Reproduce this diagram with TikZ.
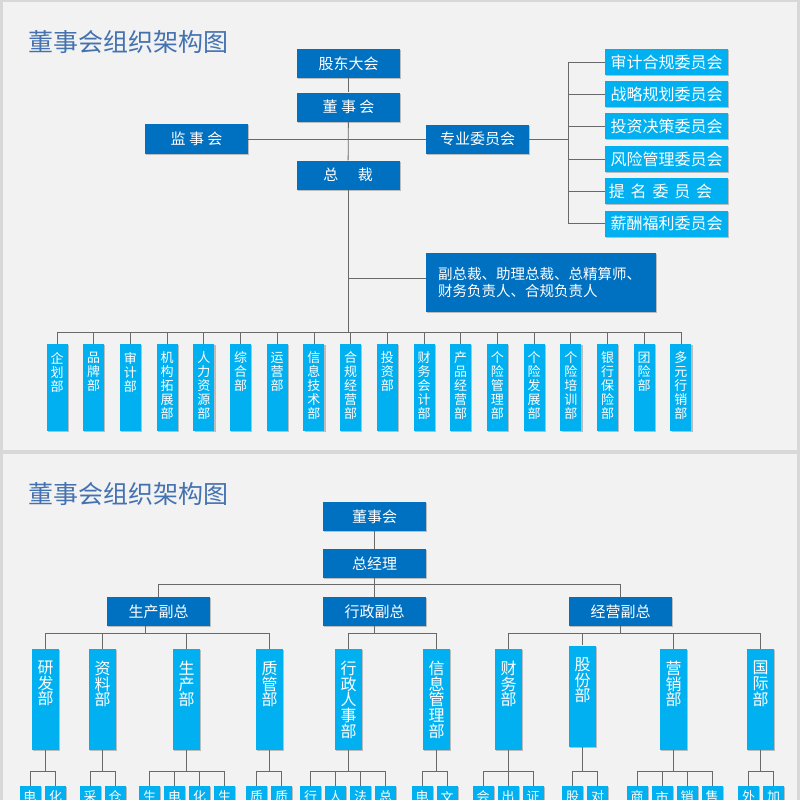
\documentclass[tikz,border=0pt]{standalone}
\usepackage{fontspec}
\setmainfont{Noto Sans CJK SC}
\usetikzlibrary{shadows}
\definecolor{dblue}{RGB}{0,112,192}
\definecolor{lblue}{RGB}{0,176,240}
\definecolor{ttlc}{RGB}{68,114,176}
\definecolor{bgframe}{RGB}{216,216,216}
\definecolor{panelc}{RGB}{242,242,242}
\definecolor{lineg}{RGB}{105,105,105}
\newcommand\deptA[1]{\parbox[c][87pt][t]{21pt}{\centering\fontsize{13pt}{14pt}\selectfont\lineskiplimit=-10pt\vspace*{8pt}#1\par}}
\newcommand\deptB[1]{\parbox[c][101pt][t]{27pt}{\centering\fontsize{16pt}{15.7pt}\selectfont\lineskiplimit=-10pt\vspace*{12pt}#1\par}}
\newcommand\subtxt[1]{\parbox[c][30pt][t]{21pt}{\centering\fontsize{13pt}{14pt}\selectfont\lineskiplimit=-10pt\vspace*{5pt}#1\par}}
\tikzset{
  shd/.style={drop shadow={shadow xshift=1.2pt,shadow yshift=-1.2pt,opacity=.22,fill=black}},
  dbox/.style={shd,fill=dblue,text=white,minimum width=103pt,minimum height=29pt,inner sep=0pt,font=\fontsize{15pt}{18pt}\selectfont},
  cbox/.style={shd,fill=lblue,text=white,minimum width=123pt,minimum height=26pt,inner sep=0pt,font=\fontsize{16pt}{19pt}\selectfont},
  dept/.style={shd,fill=lblue,text=white,inner sep=0pt},
  conn/.style={draw=lineg,line width=0.8pt},
  ttl/.style={text=ttlc,anchor=west,inner sep=0pt,font=\fontsize{25pt}{30pt}\selectfont}
}
\begin{document}
\begin{tikzpicture}[x=1pt,y=-1pt]
\useasboundingbox (0,0) rectangle (800,800);
\clip (0,0) rectangle (800,800);
\fill[bgframe] (0,0) rectangle (800,800);
\fill[panelc] (2.5,2.5) rectangle (797,450);
\fill[panelc] (2.5,453.5) rectangle (797,800);

% ---------- panel 1 ----------
\node[ttl] (t1) at (28,42) {董事会组织架构图};
\coordinate (zb) at (568,139);
\coordinate (db) at (348,332);

\node[dbox] (gd) at (348.5,63.5) {股东大会};
\node[dbox] (bd) at (348.5,107) {董 事 会};
\node[dbox,minimum height=30pt] (js) at (196.5,139) {监 事 会};
\node[dbox] (zc) at (348,175) {总\hspace{1.3em}裁};
\node[dbox] (zy) at (477.5,139) {专业委员会};
\node[cbox] (c1) at (666.5,62) {审计合规委员会};
\node[cbox] (c2) at (666.5,94) {战略规划委员会};
\node[cbox] (c3) at (666.5,126) {投资决策委员会};
\node[cbox] (c4) at (666.5,159) {风险管理委员会};
\node[cbox] (c5) at (666.5,191) {提\hspace*{0.36em}名\hspace*{0.36em}委\hspace*{0.36em}员\hspace*{0.36em}会\hspace*{12pt}};
\node[cbox] (c6) at (666.5,223.5) {薪酬福利委员会};
\node[dbox,minimum width=230pt,minimum height=59pt,text width=206pt,align=left,font=\fontsize{14.5pt}{16.5pt}\selectfont] (fz) at (541,282.5) {副总裁、助理总裁、总精算师、\\财务负责人、合规负责人};

\draw[conn] (gd) -- (bd);
\draw[conn] (bd) -- (zc);
\draw[conn] (js) -- (zy);
\draw[conn] (zy) -- (zb);
\draw[conn] (zb |- c1.west) -- (zb |- c6.west);
\foreach \i in {1,...,6} \draw[conn] (zb |- c\i.west) -- (c\i.west);
\draw[conn] (zc) -- (db);
\coordinate (fzl) at ([yshift=4.5pt]fz.west);
\draw[conn] (fzl -| zc) -- (fzl);

\foreach \t [count=\i] in {{企\\划\\部},{品\\牌\\部},{审\\计\\部},{机\\构\\拓\\展\\部},{人\\力\\资\\源\\部},{综\\合\\部},{运\\营\\部},{信\\息\\技\\术\\部},{合\\规\\经\\营\\部},{投\\资\\部},{财\\务\\会\\计\\部},{产\\品\\经\\营\\部},{个\\险\\管\\理\\部},{个\\险\\发\\展\\部},{个\\险\\培\\训\\部},{银\\行\\保\\险\\部},{团\\险\\部},{多\\元\\行\\销\\部}}{
  \node[dept] (d\i) at ({57+(\i-1)*36.7},387.5) {\deptA{\t}};
  \draw[conn] (d\i.north |- db) -- (d\i.north);
}
\draw[conn] (d1.north |- db) -- (d18.north |- db);

% ---------- panel 2 ----------
\node[ttl] (t2) at (28,494) {董事会组织架构图};
\coordinate (vb) at (374.5,584);
\coordinate (eb) at (0,633);
\coordinate (sb) at (0,771);

\node[dbox] (b2) at (374.5,516.5) {董事会};
\node[dbox] (zj) at (374.5,563.5) {总经理};
\node[dbox] (p1) at (158.5,611.5) {生产副总};
\node[dbox] (p2) at (374.5,611.5) {行政副总};
\node[dbox] (p3) at (620.5,611.5) {经营副总};
\draw[conn] (b2) -- (zj);
\draw[conn] (zj) -- (p2);
\draw[conn] (p1.north |- vb) -- (p3.north |- vb);
\draw[conn] (p1.north |- vb) -- (p1.north);
\draw[conn] (p3.north |- vb) -- (p3.north);

\node[dept] (q1) at (45.5,699.5) {\deptB{研\\发\\部}};
\node[dept] (q2) at (102.5,699.5) {\deptB{资\\料\\部}};
\node[dept] (q3) at (186.5,699.5) {\deptB{生\\产\\部}};
\node[dept] (q4) at (269.5,699.5) {\deptB{质\\管\\部}};
\node[dept] (r1) at (348.5,699.5) {\deptB{行\\政\\人\\事\\部}};
\node[dept] (r2) at (436.5,699.5) {\deptB{信\\息\\管\\理\\部}};
\node[dept] (s1) at (508.5,699.5) {\deptB{财\\务\\部}};
\node[dept] (s2) at (582.5,696) {\deptB{股\\份\\部}};
\node[dept] (s3) at (673.5,699.5) {\deptB{营\\销\\部}};
\node[dept] (s4) at (760.5,699.5) {\deptB{国\\际\\部}};

\coordinate (p1d) at ([xshift=-13pt]p1.south);
\draw[conn] (p1d) -- (p1d |- eb);
\draw[conn] (q1.north |- eb) -- (q4.north |- eb);
\foreach \n in {q1,q2,q3,q4} \draw[conn] (\n.north |- eb) -- (\n.north);
\draw[conn] (p2.south) -- (p2.south |- eb);
\draw[conn] (r1.north |- eb) -- (r2.north |- eb);
\foreach \n in {r1,r2} \draw[conn] (\n.north |- eb) -- (\n.north);
\draw[conn] (p3.south) -- (p3.south |- eb);
\draw[conn] (s1.north |- eb) -- (s4.north |- eb);
\foreach \n in {s1,s2,s3,s4} \draw[conn] (\n.north |- eb) -- (\n.north);

\foreach \dn/\subs in {q1/{30/电,55.5/化},q2/{90/采,115/仓},q3/{149.5/生,174.5/电,199.5/化,224.5/生},q4/{256.5/质,281.5/质},r1/{310.5/行,335.5/人,360.5/法,385.5/总},r2/{422/电,447/文},s1/{483/会,508/出,533/证},s2/{572.5/股,597.5/对},s3/{637/商,662/市,687/销,712/售},s4/{748.5/外,773.5/加}}{
  \draw[conn] (\dn.south) -- (\dn.south |- sb);
  \foreach \xx/\ch [count=\j] in \subs {
    \node[dept] (\dn s\j) at (\xx,801) {\subtxt{\ch}};
    \draw[conn] (\dn.south |- sb) -- (\dn s\j.north |- sb) -- (\dn s\j.north);
  }
}
\end{tikzpicture}
\end{document}
